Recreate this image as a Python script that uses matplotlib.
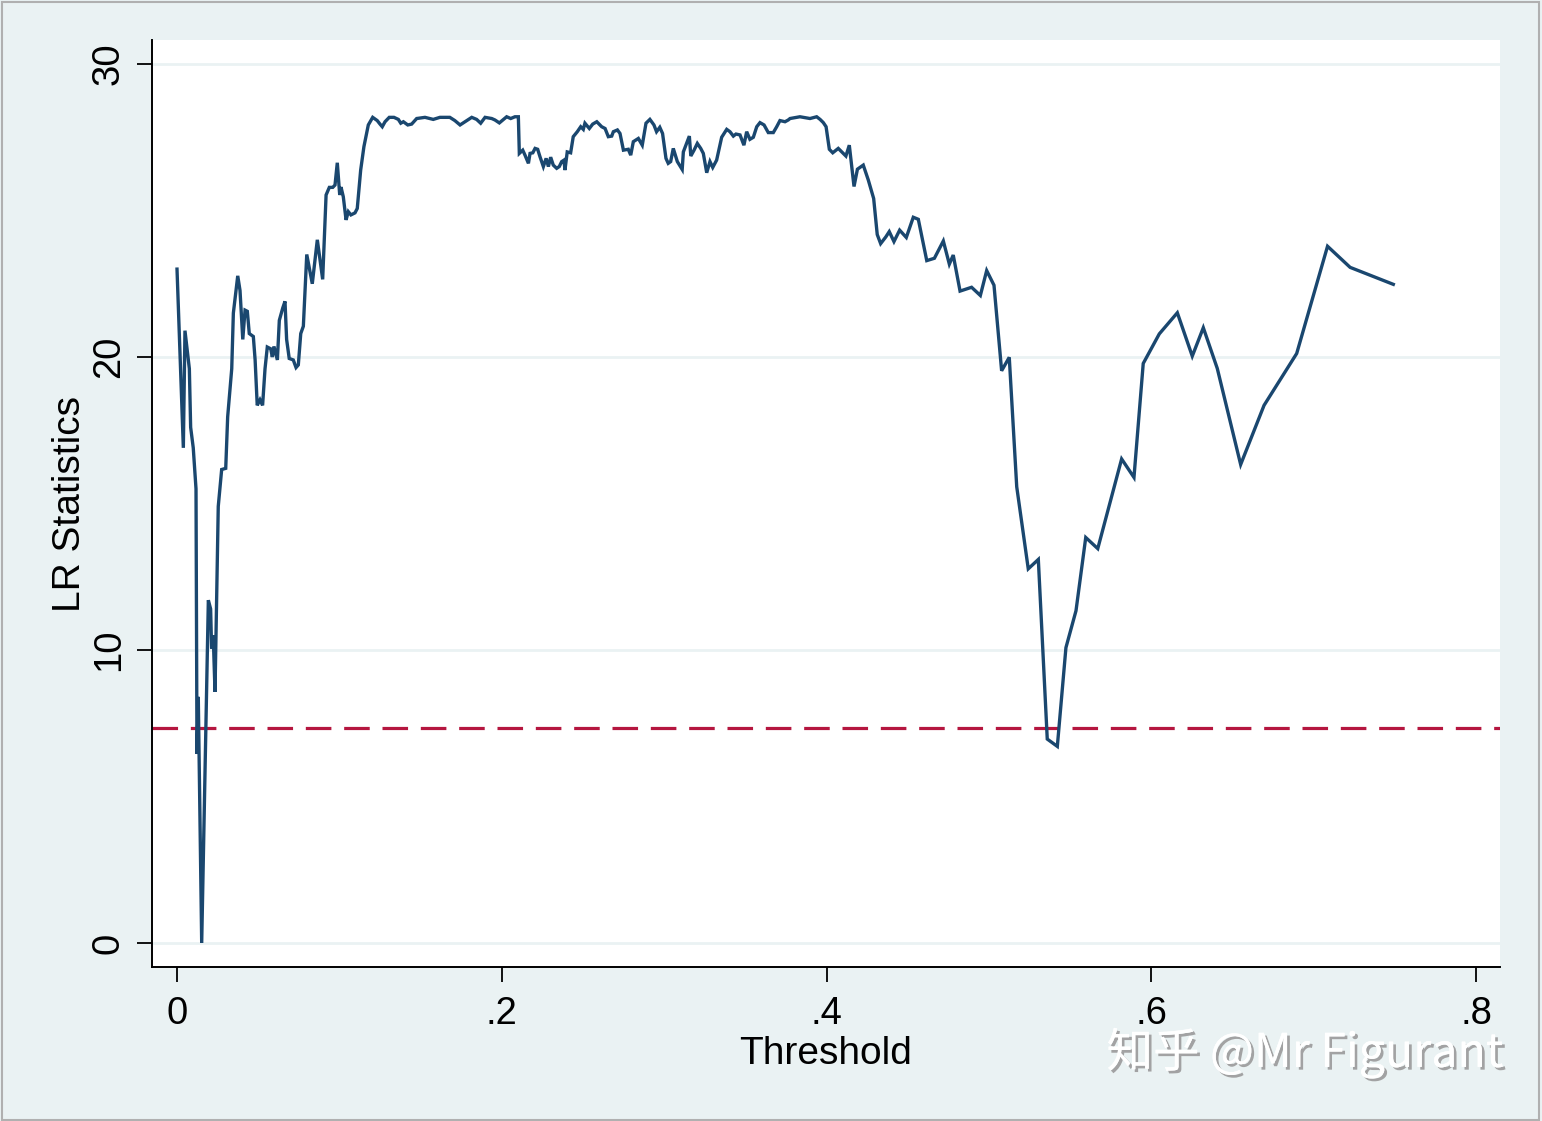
import matplotlib
matplotlib.use('Agg')
from matplotlib import pyplot as plt
from matplotlib import patheffects as pe
from matplotlib.patches import Rectangle

plt.rcParams['font.family'] = ['Liberation Sans', 'DejaVu Sans']

# threshold grid and LR statistic
threshold = [
    0.0000, 0.0039, 0.0049, 0.0076, 0.0084, 0.0100, 0.0117, 0.0123, 0.0131, 0.0152,
    0.0193, 0.0207, 0.0213, 0.0223, 0.0234, 0.0254, 0.0275, 0.0300, 0.0312, 0.0337,
    0.0347, 0.0374, 0.0388, 0.0405, 0.0419, 0.0433, 0.0445, 0.0470, 0.0481, 0.0494,
    0.0511, 0.0527, 0.0542, 0.0556, 0.0577, 0.0587, 0.0597, 0.0618, 0.0630, 0.0651,
    0.0665, 0.0675, 0.0691, 0.0716, 0.0733, 0.0747, 0.0762, 0.0778, 0.0799, 0.0833,
    0.0864, 0.0897, 0.0918, 0.0938, 0.0959, 0.0973, 0.0987, 0.1002, 0.1010, 0.1024,
    0.1041, 0.1055, 0.1071, 0.1096, 0.1110, 0.1131, 0.1151, 0.1178, 0.1205, 0.1233,
    0.1250, 0.1264, 0.1281, 0.1307, 0.1336, 0.1363, 0.1378, 0.1394, 0.1421, 0.1445,
    0.1476, 0.1527, 0.1578, 0.1619, 0.1680, 0.1711, 0.1743, 0.1773, 0.1815, 0.1845,
    0.1870, 0.1897, 0.1938, 0.1958, 0.1985, 0.2000, 0.2030, 0.2055, 0.2081, 0.2102,
    0.2108, 0.2129, 0.2143, 0.2164, 0.2174, 0.2191, 0.2205, 0.2221, 0.2235, 0.2256,
    0.2273, 0.2287, 0.2301, 0.2317, 0.2338, 0.2354, 0.2369, 0.2383, 0.2389, 0.2403,
    0.2424, 0.2440, 0.2465, 0.2486, 0.2502, 0.2512, 0.2539, 0.2560, 0.2585, 0.2615,
    0.2636, 0.2656, 0.2677, 0.2687, 0.2712, 0.2728, 0.2749, 0.2779, 0.2794, 0.2810,
    0.2841, 0.2865, 0.2888, 0.2912, 0.2937, 0.2953, 0.2973, 0.2990, 0.3011, 0.3025,
    0.3040, 0.3056, 0.3081, 0.3111, 0.3118, 0.3155, 0.3164, 0.3184, 0.3204, 0.3225,
    0.3241, 0.3262, 0.3282, 0.3299, 0.3323, 0.3354, 0.3385, 0.3405, 0.3426, 0.3442,
    0.3467, 0.3491, 0.3508, 0.3528, 0.3549, 0.3570, 0.3590, 0.3615, 0.3641, 0.3672,
    0.3693, 0.3713, 0.3744, 0.3764, 0.3775, 0.3836, 0.3898, 0.3939, 0.3960, 0.3980,
    0.3997, 0.4017, 0.4038, 0.4072, 0.4099, 0.4119, 0.4140, 0.4169, 0.4190, 0.4226,
    0.4257, 0.4290, 0.4312, 0.4333, 0.4365, 0.4386, 0.4415, 0.4450, 0.4491, 0.4534,
    0.4565, 0.4617, 0.4664, 0.4719, 0.4756, 0.4780, 0.4822, 0.4893, 0.4947, 0.4986,
    0.5031, 0.5078, 0.5125, 0.5171, 0.5242, 0.5304, 0.5359, 0.5421, 0.5474, 0.5536,
    0.5596, 0.5670, 0.5817, 0.5893, 0.5950, 0.6049, 0.6160, 0.6252, 0.6320, 0.6406,
    0.6550, 0.6694, 0.6895, 0.7085, 0.7224, 0.7490,
]
lr_stat = [
    23.00, 16.90, 20.90, 19.60, 17.60, 16.90, 15.50, 6.45, 8.40, 0.00,
    11.70, 11.40, 10.05, 10.50, 8.57, 14.90, 16.16, 16.20, 17.96, 19.60,
    21.50, 22.77, 22.27, 20.60, 21.60, 21.56, 20.80, 20.70, 19.90, 18.35,
    18.54, 18.35, 19.60, 20.34, 20.28, 20.00, 20.36, 19.90, 21.25, 21.67,
    21.90, 20.60, 19.95, 19.90, 19.64, 19.73, 20.80, 21.05, 23.50, 22.50,
    24.00, 22.65, 25.53, 25.79, 25.79, 25.87, 26.63, 25.53, 25.80, 25.47,
    24.68, 24.96, 24.85, 24.92, 25.07, 26.38, 27.18, 27.92, 28.18, 28.07,
    27.95, 27.86, 28.03, 28.18, 28.18, 28.11, 27.98, 28.03, 27.92, 27.95,
    28.14, 28.18, 28.11, 28.18, 28.18, 28.07, 27.92, 28.03, 28.18, 28.11,
    27.98, 28.18, 28.14, 28.09, 27.99, 28.06, 28.20, 28.14, 28.20, 28.20,
    26.95, 27.06, 26.89, 26.61, 26.95, 26.97, 27.12, 27.09, 26.84, 26.50,
    26.78, 26.50, 26.82, 26.55, 26.44, 26.50, 26.67, 26.72, 26.38, 27.00,
    26.97, 27.52, 27.69, 27.86, 27.77, 27.98, 27.80, 27.95, 28.03, 27.86,
    27.80, 27.52, 27.54, 27.69, 27.75, 27.63, 27.06, 27.09, 26.89, 27.35,
    27.46, 27.23, 27.98, 28.11, 27.92, 27.69, 27.84, 27.63, 26.78, 26.61,
    26.67, 27.12, 26.67, 26.40, 27.00, 27.54, 26.86, 27.06, 27.29, 27.12,
    26.95, 26.29, 26.67, 26.47, 26.72, 27.50, 27.77, 27.69, 27.54, 27.61,
    27.58, 27.23, 27.69, 27.43, 27.50, 27.86, 28.00, 27.92, 27.66, 27.66,
    27.86, 28.07, 28.03, 28.09, 28.14, 28.20, 28.14, 28.20, 28.11, 28.00,
    27.86, 27.09, 26.97, 27.12, 26.97, 26.86, 27.23, 25.82, 26.41, 26.55,
    26.04, 25.41, 24.18, 23.87, 24.10, 24.28, 23.94, 24.33, 24.08, 24.77,
    24.70, 23.29, 23.37, 23.96, 23.17, 23.48, 22.25, 22.38, 22.10, 22.95,
    22.45, 19.53, 19.99, 15.57, 12.77, 13.09, 6.96, 6.71, 10.08, 11.34,
    13.84, 13.46, 16.52, 15.89, 19.78, 20.79, 21.51, 20.03, 21.00, 19.61,
    16.33, 18.35, 20.12, 23.78, 23.06, 22.48,
]
critical_value = 7.35

x_ticks = [0, 0.2, 0.4, 0.6, 0.8]
x_tick_labels = ['0', '.2', '.4', '.6', '.8']
y_ticks = [0, 10, 20, 30]
y_tick_labels = ['0', '10', '20', '30']

bg = '#eaf2f3'
fig = plt.figure(figsize=(15.42, 11.21), dpi=100, facecolor=bg)
ax = fig.add_axes([152 / 1542, 1 - 967 / 1121, (1500 - 152) / 1542, (967 - 40) / 1121])
ax.set_facecolor('white')

ax.plot(threshold, lr_stat, color='#1a476f', lw=2.4, solid_joinstyle='miter', zorder=3)
ax.axhline(critical_value, color='#b5163f', lw=2.3, dashes=(8, 4), zorder=2)

ax.set_xlim(-0.0154, 0.8147)
ax.set_ylim(-0.82, 30.82)
for y in y_ticks:
    ax.axhline(y, color=bg, lw=2, zorder=1)

ax.set_xticks(x_ticks, x_tick_labels)
ax.set_yticks(y_ticks, y_tick_labels)
ax.tick_params(axis='both', direction='out', length=11, width=1.3, labelsize=27.5, colors='black', pad=10)
ax.tick_params(axis='y', pad=7)
for lab in ax.get_yticklabels():
    lab.set_rotation(90)
    lab.set_va('center')

for side in ['top', 'right']:
    ax.spines[side].set_visible(False)
for side in ['left', 'bottom']:
    ax.spines[side].set_linewidth(1.4)

ax.set_xlabel('Threshold', fontsize=28, labelpad=3)
ax.set_ylabel('LR Statistics', fontsize=28, labelpad=2)

# watermark
fig.text(1305 / 1542, 1 - 1053 / 1121, '知乎 @Mr Figurant', fontsize=33.5, color='white',
         family=['Noto Sans CJK SC', 'DejaVu Sans'], ha='center', va='center',
         path_effects=[pe.withSimplePatchShadow(offset=(2, -2), shadow_rgbFace='#9a9a9a', alpha=0.9),
                       pe.Normal()])

# thin outer frame
fig.patches.append(Rectangle((0.001, 0.001), 0.997, 0.997, transform=fig.transFigure,
                             fill=False, edgecolor='#b0b0b0', lw=1.5))

fig.savefig('out.png', dpi=100, facecolor=bg)
